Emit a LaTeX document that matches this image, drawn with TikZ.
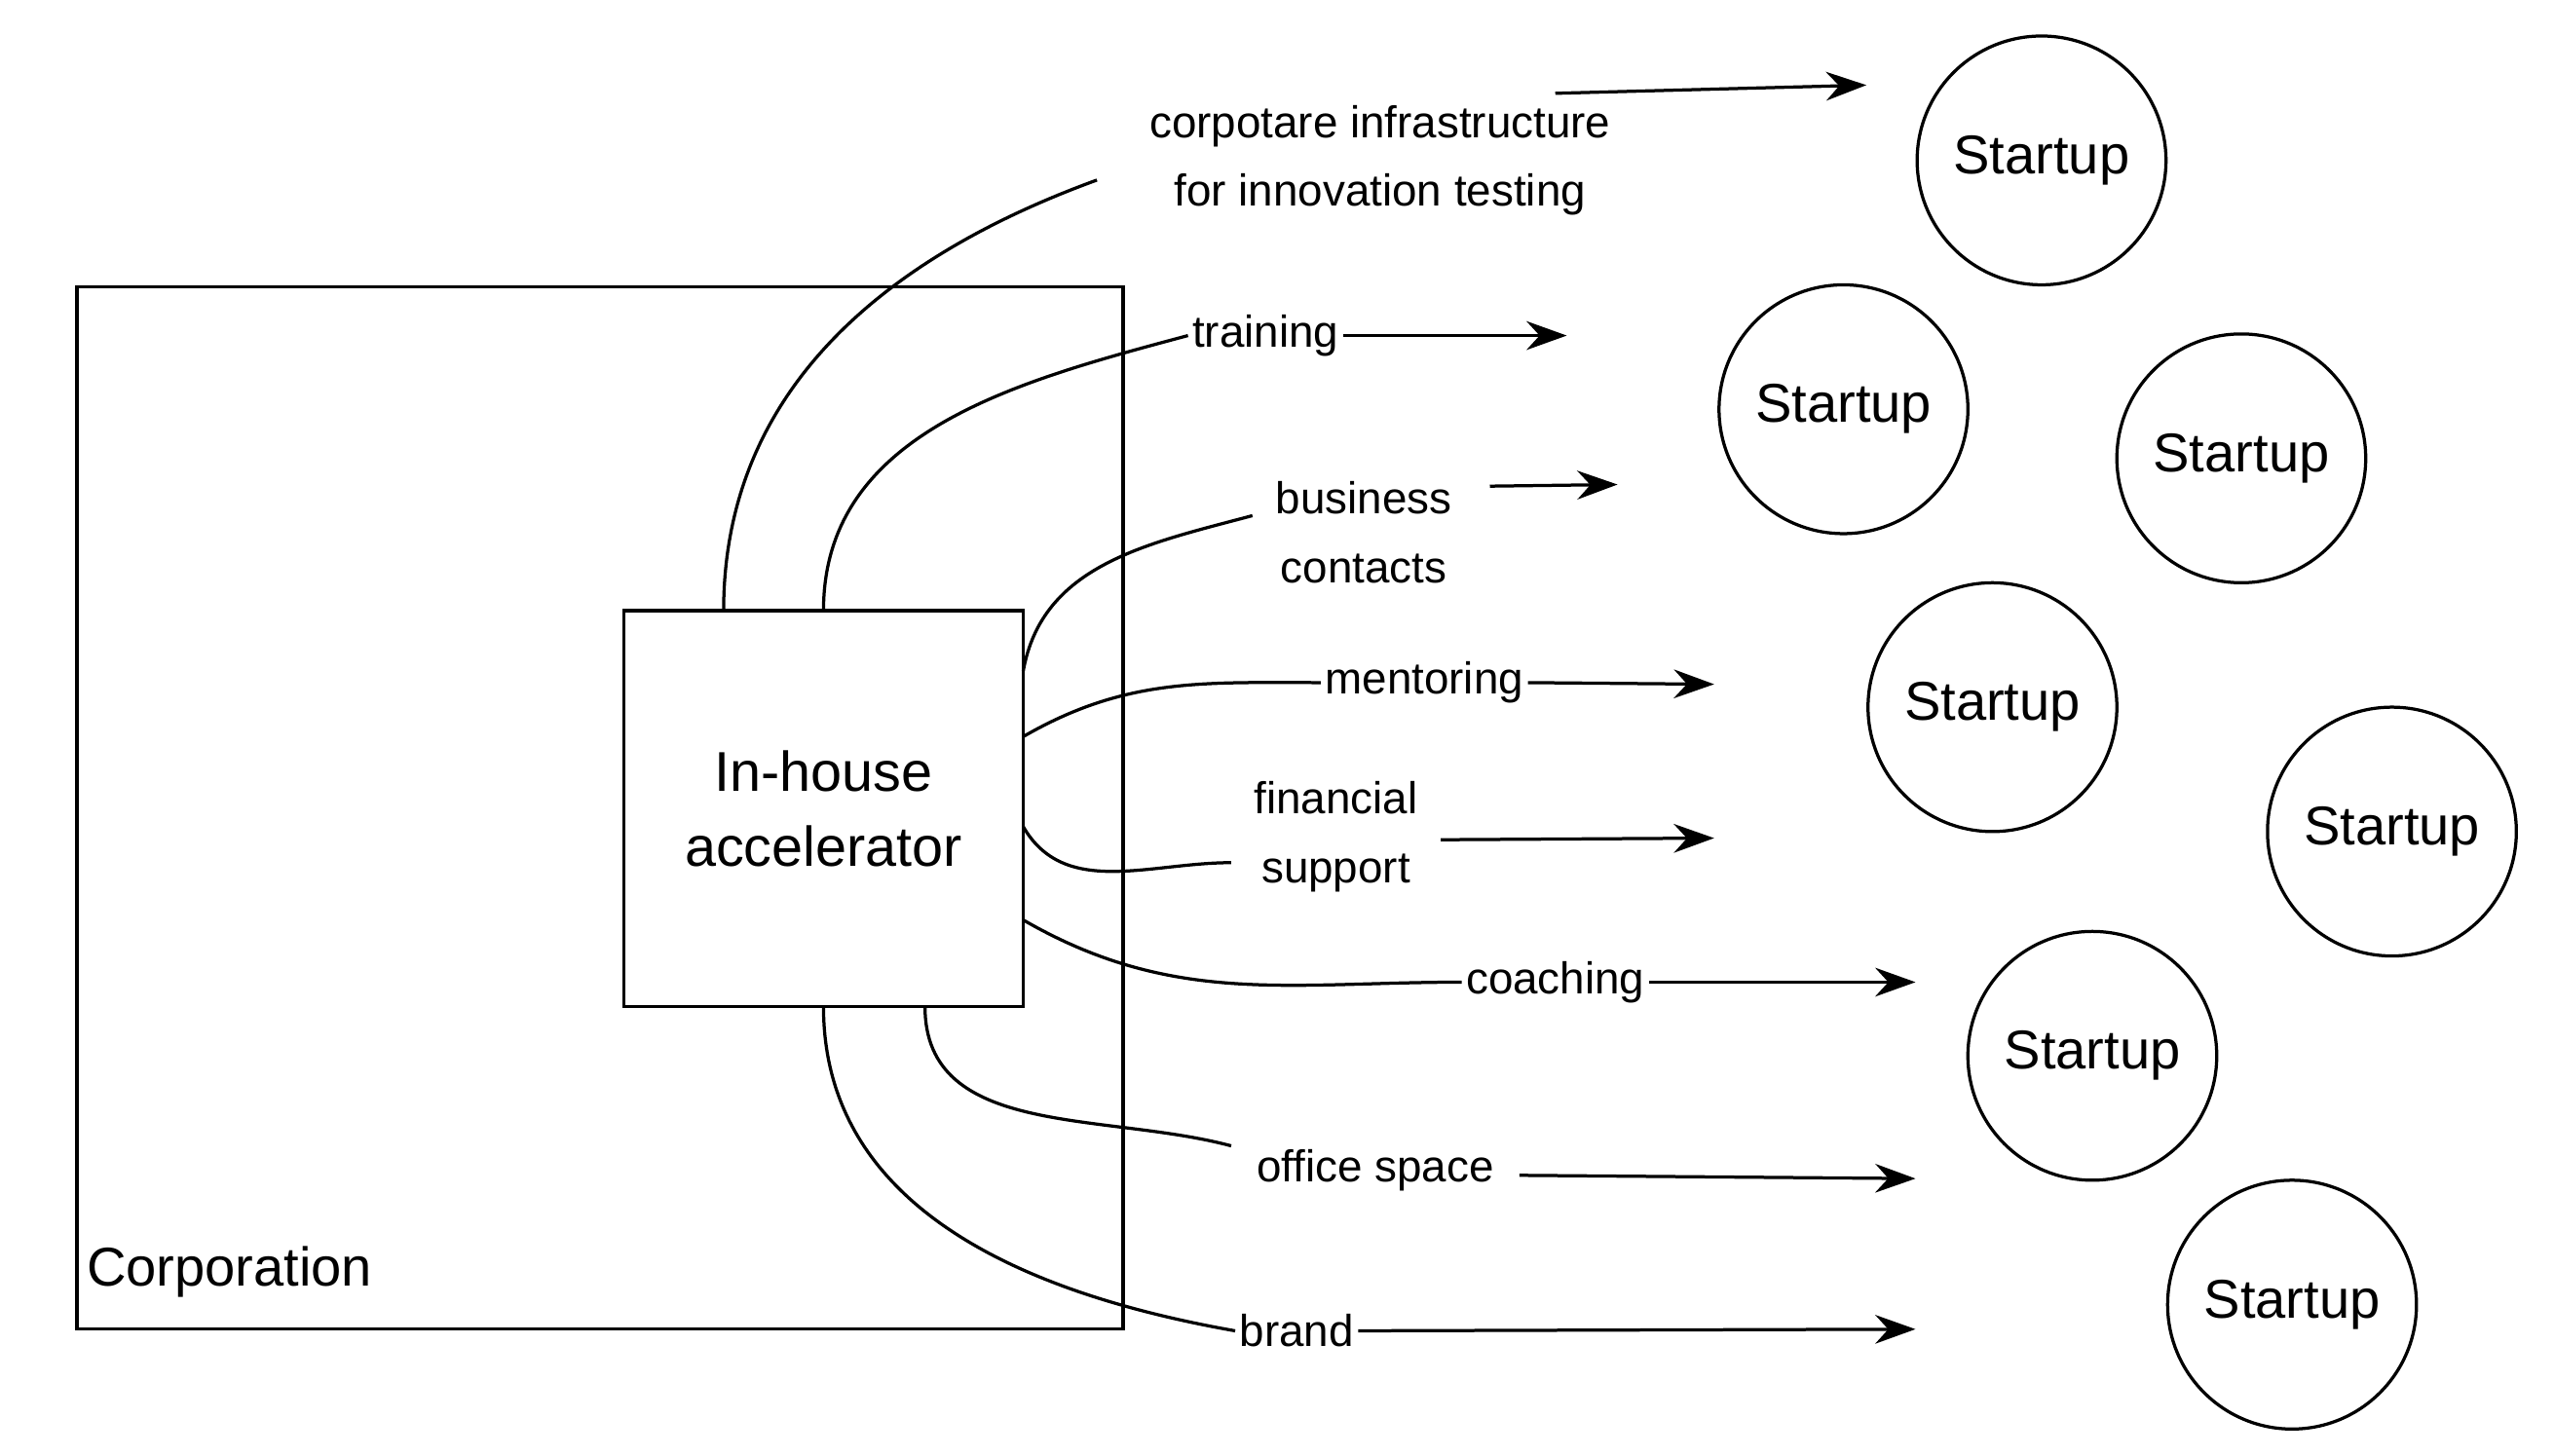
\documentclass[tikz,border=0pt]{standalone}
\usepackage{fontspec}
\setmainfont{Liberation Sans}
\usetikzlibrary{arrows.meta}
\begin{document}
\begin{tikzpicture}[x=0.02cm,y=-0.02cm,line width=1.1pt,
  su/.style={circle,draw,minimum size=152*0.02cm,inner sep=0pt,font=\fontsize{19}{22}\selectfont},
  lbl/.style={inner sep=1pt,align=center,font=\fontsize{15.5}{24}\selectfont},
  arr/.style={-{Stealth[length=14pt,width=10pt]}}]
\useasboundingbox (0,0) rectangle (1560,889);
\node[draw,minimum width=639*0.02cm,minimum height=637*0.02cm,inner sep=0pt] (corp) at (366.5,493.5) {};
\node[anchor=west,font=\fontsize{19}{22}\selectfont,inner sep=0pt] (corpl) at (52,777) {Corporation};
\node[draw,minimum width=244*0.02cm,minimum height=242*0.02cm,inner sep=0pt,align=center,font=\fontsize{19.5}{26}\selectfont] (acc) at (503,494) {In-house\\accelerator};
\node[su] (s1) at (1247,98) {Startup};
\node[su] (s2) at (1126,250) {Startup};
\node[su] (s3) at (1369,280) {Startup};
\node[su] (s4) at (1217,432) {Startup};
\node[su] (s5) at (1461,508) {Startup};
\node[su] (s6) at (1278,645) {Startup};
\node[su] (s7) at (1400,797) {Startup};
% labels
\node[lbl] (l1) at (843,98) {corpotare infrastructure\\for innovation testing};
\node[lbl] (l2) at (773,205) {training};
\node[lbl] (l3) at (833,325) {business\\contacts};
\node[lbl] (l4) at (870,417) {mentoring};
\node[lbl] (l5) at (816,511) {financial\\support};
\node[lbl] (l6) at (950,600) {coaching};
\node[lbl] (l7) at (840,715) {office space};
\node[lbl] (l8) at (792,813) {brand};
% start coordinates
\coordinate (a1) at (442,373);
\coordinate (a2) at (503,373);
\coordinate (a3) at (625,410);
\coordinate (a4) at (625,450);
\coordinate (a5) at (625,505);
\coordinate (a6) at (625,562);
\coordinate (a7) at (565,615);
\coordinate (a8) at (503,615);
% end coordinates
\coordinate (e1) at (1140,52);
\coordinate (e2) at (957,205);
\coordinate (e3) at (988,296);
\coordinate (e4) at (1047,418);
\coordinate (e5) at (1047,512);
\coordinate (e6) at (1170,600);
\coordinate (e7) at (1170,720);
\coordinate (e8) at (1170,812);
\coordinate (b1) at (950,57);
\coordinate (b3) at (910,297);
\coordinate (b5) at (880,513);
\coordinate (b7) at (928,718);
% curves
\draw (a1) to[out=90,in=200] (670,110);
\draw (a2) to[out=90,in=195] (l2.west);
\draw (a3) to[out=80,in=195] (765,315);
\draw (a4) to[out=30,in=180] (l4.west);
\draw (a5) to[out=-60,in=180] (752,527);
\draw (a6) to[out=-30,in=180] (l6.west);
\draw (a7) to[out=-90,in=165] (752,700);
\draw (a8) to[out=-90,in=170] (l8.west);
% arrows
\draw[arr] (b1) -- (e1);
\draw[arr] (l2.east) -- (e2);
\draw[arr] (b3) -- (e3);
\draw[arr] (l4.east) -- (e4);
\draw[arr] (b5) -- (e5);
\draw[arr] (l6.east) -- (e6);
\draw[arr] (b7) -- (e7);
\draw[arr] (l8.east) -- (e8);
\end{tikzpicture}
\end{document}
